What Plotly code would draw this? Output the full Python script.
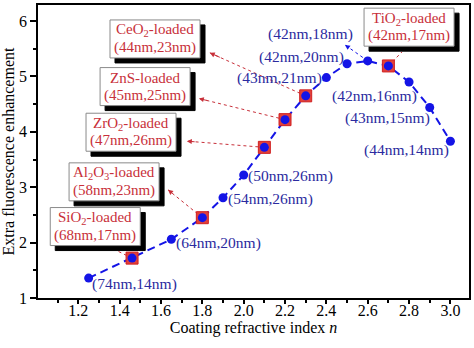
import plotly.graph_objects as go

# ---- data ----
n_index = [1.25, 1.46, 1.65, 1.8, 1.9, 2.0, 2.1, 2.2, 2.3, 2.4, 2.5, 2.6, 2.7, 2.8, 2.9, 3.0]
enhancement = [1.36, 1.72, 2.06, 2.45, 2.81, 3.22, 3.72, 4.22, 4.65, 4.98, 5.23, 5.28, 5.19, 4.90, 4.44, 3.83]

loaded_n = [1.46, 1.8, 2.1, 2.2, 2.3, 2.7]
loaded_enh = [1.72, 2.45, 3.72, 4.22, 4.65, 5.19]
loaded_names = ["SiO<sub>2</sub>-loaded", "Al<sub>2</sub>O<sub>3</sub>-loaded", "ZrO<sub>2</sub>-loaded",
                "ZnS-loaded", "CeO<sub>2</sub>-loaded", "TiO<sub>2</sub>-loaded"]
loaded_dims = ["(68nm,17nm)", "(58nm,23nm)", "(47nm,26nm)", "(45nm,25nm)", "(44nm,23nm)", "(42nm,17nm)"]
box_x = [1.282, 1.373, 1.455, 1.523, 1.571, 2.80]
box_y = [2.29, 3.097, 3.993, 4.817, 5.677, 5.89]
head_x = [1.393, 1.634, 1.725, 1.783, 1.836, 2.766]
head_y = [1.842, 2.953, 3.832, 4.602, 5.427, 5.444]

blue_labels = ["(74nm,14nm)", "(64nm,20nm)", "(54nm,26nm)", "(50nm,26nm)", "(43nm,21nm)",
               "(42nm,20nm)", "(42nm,18nm)", "(42nm,16nm)", "(43nm,15nm)", "(44nm,14nm)"]
blue_lx = [1.470, 1.880, 2.130, 2.227, 2.174, 2.280, 2.323, 2.631, 2.694, 2.786]
blue_ly = [1.251, 1.986, 2.792, 3.204, 4.978, 5.355, 5.767, 4.656, 4.244, 3.670]
blue_arrow_tail = (2.6, 5.28)
blue_arrow_head = (2.49, 5.57)

x_ticks = [1.2, 1.4, 1.6, 1.8, 2.0, 2.2, 2.4, 2.6, 2.8, 3.0]
y_ticks = [1, 2, 3, 4, 5, 6]

BLUE = "#1414e6"
LBLUE = "#2b2ba0"
RED = "#c8303a"
SQ = "#e2403a"
FONT = "Liberation Serif"
BOX_W, BOX_H, SHADOW = 90, 38, 5

fig = go.Figure()

fig.add_trace(go.Scatter(x=n_index, y=enhancement, mode="lines",
                         line=dict(color=BLUE, width=2, dash="8px,5px"),
                         hoverinfo="skip", showlegend=False))
fig.add_trace(go.Scatter(x=loaded_n, y=loaded_enh, mode="markers",
                         marker=dict(symbol="square", size=12, color=SQ,
                                     line=dict(color="#d02020", width=1)),
                         showlegend=False))
fig.add_trace(go.Scatter(x=n_index, y=enhancement, mode="markers",
                         marker=dict(symbol="circle", size=9, color=BLUE),
                         showlegend=False))

shapes = []
annotations = []

for bx, by, hx, hy in zip(loaded_n, loaded_enh, head_x, head_y):
    shapes.append(dict(type="line", xref="x", yref="y", x0=bx, y0=by, x1=hx, y1=hy,
                       line=dict(color=RED, width=1, dash="dot"), layer="below"))
    annotations.append(dict(x=hx, y=hy, xref="x", yref="y", text="",
                            showarrow=True, axref="x", ayref="y",
                            ax=hx + (bx - hx) * 0.12, ay=hy + (by - hy) * 0.12,
                            arrowhead=2, arrowsize=1, arrowwidth=1, arrowcolor=RED))

shapes.append(dict(type="line", xref="x", yref="y", x0=blue_arrow_tail[0], y0=blue_arrow_tail[1],
                   x1=blue_arrow_head[0], y1=blue_arrow_head[1],
                   line=dict(color=BLUE, width=1, dash="dot"), layer="below"))
annotations.append(dict(x=blue_arrow_head[0], y=blue_arrow_head[1], xref="x", yref="y", text="",
                        showarrow=True, axref="x", ayref="y",
                        ax=blue_arrow_head[0] + (blue_arrow_tail[0] - blue_arrow_head[0]) * 0.2,
                        ay=blue_arrow_head[1] + (blue_arrow_tail[1] - blue_arrow_head[1]) * 0.2,
                        arrowhead=2, arrowsize=1, arrowwidth=1, arrowcolor=BLUE))

for name, dims, x, y in zip(loaded_names, loaded_dims, box_x, box_y):
    shapes.append(dict(type="rect", xref="x", yref="y", xsizemode="pixel", ysizemode="pixel",
                       xanchor=x, yanchor=y,
                       x0=-BOX_W / 2 + SHADOW, x1=BOX_W / 2 + SHADOW,
                       y0=-BOX_H / 2 - SHADOW, y1=BOX_H / 2 - SHADOW,
                       fillcolor="black", line=dict(color="black", width=1), layer="above"))
    shapes.append(dict(type="rect", xref="x", yref="y", xsizemode="pixel", ysizemode="pixel",
                       xanchor=x, yanchor=y,
                       x0=-BOX_W / 2, x1=BOX_W / 2, y0=-BOX_H / 2, y1=BOX_H / 2,
                       fillcolor="white", line=dict(color="#8a8a8a", width=1), layer="above"))
    annotations.append(dict(x=x, y=y, xref="x", yref="y", text=name, showarrow=False,
                            yshift=8.5, font=dict(family=FONT, size=15, color=RED)))
    annotations.append(dict(x=x, y=y, xref="x", yref="y", text=dims, showarrow=False,
                            yshift=-8.5, font=dict(family=FONT, size=15, color=RED)))

for t, x, y in zip(blue_labels, blue_lx, blue_ly):
    annotations.append(dict(x=x, y=y, xref="x", yref="y", text=t, showarrow=False,
                            font=dict(family=FONT, size=15.5, color=LBLUE)))

fig.update_layout(
    width=474, height=348,
    margin=dict(l=38, r=3, t=3, b=50),
    paper_bgcolor="white", plot_bgcolor="white",
    font=dict(family=FONT, size=16, color="black"),
    shapes=shapes, annotations=annotations,
    xaxis=dict(range=[1.005, 3.09], tickvals=x_ticks, ticktext=[f"{v:.1f}" for v in x_ticks],
               ticks="outside", ticklen=4, tickwidth=1.5, tickcolor="black",
               minor=dict(dtick=0.1, tick0=0, ticks="outside", ticklen=3, tickcolor="black"),
               showline=True, linecolor="black", linewidth=1.5, mirror=True,
               showgrid=False, zeroline=False, ticklabelstandoff=-7,
               title=dict(text="Coating refractive index <i>n</i>", standoff=0,
                          font=dict(family=FONT, size=16)),
               tickfont=dict(family=FONT, size=16)),
    yaxis=dict(range=[1, 6.29], tickvals=y_ticks,
               ticks="outside", ticklen=6, tickwidth=1.5, tickcolor="black",
               minor=dict(dtick=0.5, tick0=0, ticks="outside", ticklen=3, tickcolor="black"),
               showline=True, linecolor="black", linewidth=1.5, mirror=True,
               showgrid=False, zeroline=False,
               title=dict(text="Extra fluorescence enhancement", standoff=4,
                          font=dict(family=FONT, size=16)),
               tickfont=dict(family=FONT, size=16)),
)

fig.write_html("out.html")
